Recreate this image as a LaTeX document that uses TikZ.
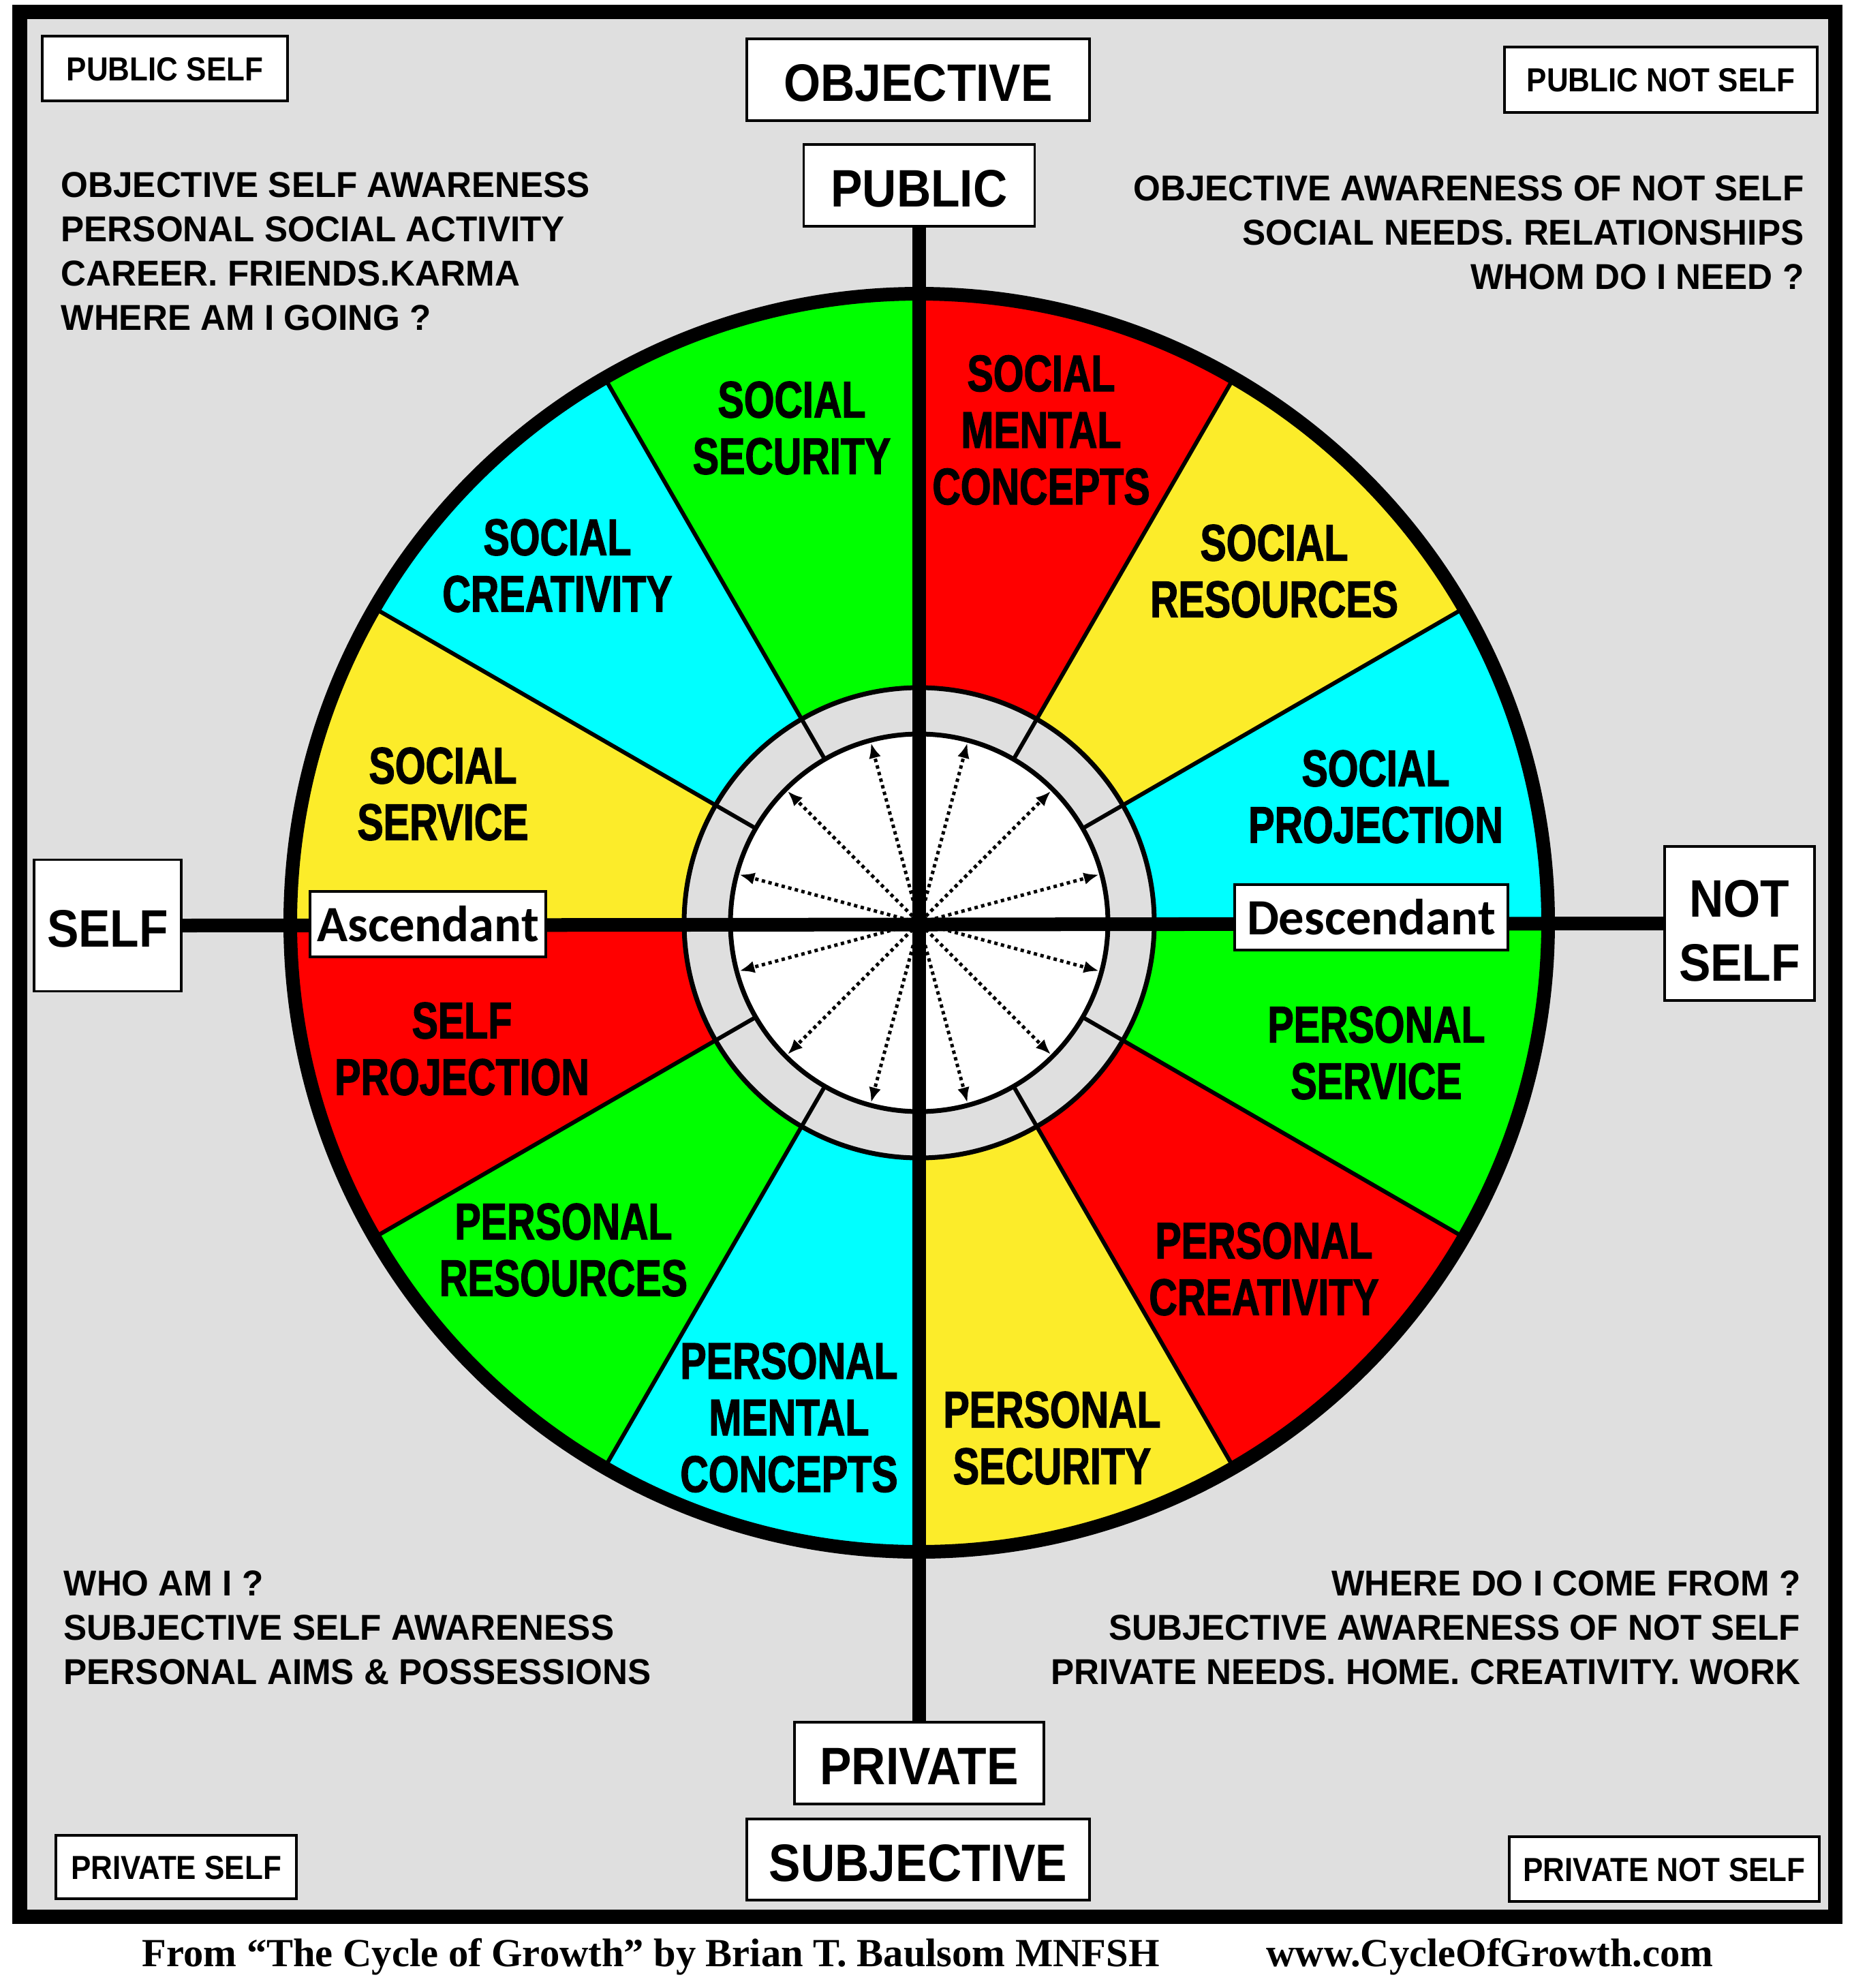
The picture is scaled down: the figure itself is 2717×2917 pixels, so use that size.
\documentclass[tikz,border=0pt]{standalone}
\usepackage{fontspec}
\usetikzlibrary{arrows.meta}
\newfontfamily\boxfont{Liberation Sans}[FakeStretch=0.9]
\newfontfamily\cornerfont{Liberation Sans}[FakeStretch=0.97]
\newfontfamily\segfont{Liberation Sans}[FakeStretch=0.76, FakeBold=1.6]
\newfontfamily\ascfont{Carlito}
\newfontfamily\capfont{Liberation Serif}
\definecolor{bggray}{RGB}{223,223,223}
\definecolor{segred}{RGB}{255,0,0}
\definecolor{segyel}{RGB}{252,236,42}
\definecolor{segcyan}{RGB}{0,255,255}
\definecolor{seggreen}{RGB}{0,255,0}
\tikzset{
  boxlbl/.style={draw=black, fill=white, line width=0.035cm, inner sep=0pt, align=center},
  bigfont/.style={font=\boxfont\bfseries\fontsize{22}{26.7}\selectfont},
  bigtxt/.style={bigfont, text height=18pt, text depth=0pt},
  smalltxt/.style={font=\boxfont\bfseries\fontsize{13.9}{16}\selectfont, text height=9.95pt, text depth=0pt},
  asctxt/.style={font=\ascfont\bfseries\fontsize{21.2}{25}\selectfont},
  cornertxt/.style={font=\cornerfont\bfseries\fontsize{15}{18.5}\selectfont, inner sep=0pt},
  seg/.style={font=\segfont\bfseries\fontsize{21.5}{23.6}\selectfont, align=center, inner sep=0pt},
  captxt/.style={font=\capfont\bfseries\fontsize{16.65}{20}\selectfont, inner sep=0pt, anchor=base west},
  crossline/.style={line width=0.2cm},
  divline/.style={line width=0.06cm},
  ringline/.style={line width=0.07cm},
  dotarrow/.style={line width=0.05cm, dash pattern=on 0.05cm off 0.05cm, -{Latex[length=0.22cm,width=0.18cm]}}
}
\begin{document}
\begin{tikzpicture}[x=0.01cm,y=0.01cm]
\useasboundingbox (0,0) rectangle (2717,-2917);
\fill[white] (0,0) rectangle (2717,-2917);
% frame
\draw[line width=0.21cm, fill=bggray] (29,-17.5) rectangle (2693,-2812);
\coordinate (C) at (1349,-1354);
% sectors
\foreach \k/\c in {0/segred,1/segyel,2/segcyan,3/seggreen,4/segred,5/segyel,6/segcyan,7/seggreen,8/segred,9/segyel,10/segcyan,11/seggreen}{
  \fill[\c] (C) -- ++({90-30*\k}:923) arc[start angle={90-30*\k}, end angle={60-30*\k}, radius=923] -- cycle;
}
\fill[bggray] (C) circle[radius=345];
\fill[white] (C) circle[radius=277];
\foreach \a in {30,60,120,150,210,240,300,330}{
  \draw[divline, shift={(C)}] (\a:277) -- (\a:923);
}
\draw[ringline] (C) circle[radius=345];
\draw[ringline] (C) circle[radius=277];
\draw[line width=0.2cm] (C) circle[radius=923];
% arrows
\foreach \a in {15,45,...,345}{
  \draw[dotarrow, shift={(C)}] (\a:14) -- (\a:273);
}
% boxes
\node[boxlbl, smalltxt, minimum width=3.60cm, minimum height=0.95cm] (pubself) at (242,-100.5) {PUBLIC SELF};
\node[boxlbl, smalltxt, minimum width=4.59cm, minimum height=0.96cm] (pubnotself) at (2437.5,-117) {PUBLIC NOT SELF};
\node[boxlbl, bigtxt, minimum width=5.03cm, minimum height=1.20cm] (objective) at (1347.5,-117) {OBJECTIVE};
\node[boxlbl, bigtxt, minimum width=3.39cm, minimum height=1.20cm] (public) at (1349,-272) {PUBLIC};
\node[boxlbl, bigtxt, minimum width=2.16cm, minimum height=1.93cm] (self) at (158,-1358) {SELF};
\node[boxlbl, minimum width=2.20cm, minimum height=2.26cm] (notself) at (2553,-1355) {};
\node[bigfont, align=center, inner sep=0pt] (notselftxt) at (2553,-1366) {NOT\\SELF};
\node[boxlbl, bigtxt, minimum width=3.66cm, minimum height=1.20cm] (private) at (1349,-2587) {PRIVATE};
\node[boxlbl, bigtxt, minimum width=5.03cm, minimum height=1.19cm] (subjective) at (1347.5,-2728.5) {SUBJECTIVE};
\node[boxlbl, smalltxt, minimum width=3.53cm, minimum height=0.93cm] (privself) at (258.5,-2739.5) {PRIVATE SELF};
\node[boxlbl, smalltxt, minimum width=4.55cm, minimum height=0.95cm] (privnotself) at (2442.5,-2742.5) {PRIVATE NOT SELF};
% cross lines
\draw[crossline] (self.east) -- (notself.west);
\draw[crossline] (public.south) -- (private.north);
\fill (C) circle[radius=14];
\node[boxlbl, asctxt, minimum width=3.46cm, minimum height=0.96cm] (asc) at (628,-1356) {Ascendant};
\node[boxlbl, asctxt, minimum width=4.01cm, minimum height=0.96cm] (desc) at (2012.5,-1346) {Descendant};
% segment labels
\node[seg] (s1) at (1162,-628) {SOCIAL\\SECURITY};
\node[seg] (s2) at (1528,-631) {SOCIAL\\MENTAL\\CONCEPTS};
\node[seg] (s3) at (1870,-838) {SOCIAL\\RESOURCES};
\node[seg] (s4) at (2019,-1169) {SOCIAL\\PROJECTION};
\node[seg] (s5) at (2020,-1545) {PERSONAL\\SERVICE};
\node[seg] (s6) at (1855,-1862) {PERSONAL\\CREATIVITY};
\node[seg] (s7) at (1544,-2110) {PERSONAL\\SECURITY};
\node[seg] (s8) at (1158,-2080) {PERSONAL\\MENTAL\\CONCEPTS};
\node[seg] (s9) at (827,-1834) {PERSONAL\\RESOURCES};
\node[seg] (s10) at (678,-1539) {SELF\\PROJECTION};
\node[seg] (s11) at (650,-1165) {SOCIAL\\SERVICE};
\node[seg] (s12) at (818,-830) {SOCIAL\\CREATIVITY};
% corner texts
\node[cornertxt, anchor=north west, align=left] (tl) at (89,-252) {OBJECTIVE SELF AWARENESS\\PERSONAL SOCIAL ACTIVITY\\CAREER. FRIENDS.KARMA\\WHERE AM I GOING ?};
\node[cornertxt, anchor=north east, align=right] (tr) at (2648,-257) {OBJECTIVE AWARENESS OF NOT SELF\\SOCIAL NEEDS. RELATIONSHIPS\\WHOM DO I NEED ?};
\node[cornertxt, anchor=north west, align=left] (bl) at (93,-2304) {WHO AM I ?\\SUBJECTIVE SELF AWARENESS\\PERSONAL AIMS \& POSSESSIONS};
\node[cornertxt, anchor=north east, align=right] (br) at (2643,-2304) {WHERE DO I COME FROM ?\\SUBJECTIVE AWARENESS OF NOT SELF\\PRIVATE NEEDS. HOME. CREATIVITY. WORK};
% caption
\node[captxt] (cap1) at (208,-2885) {From “The Cycle of Growth” by Brian T. Baulsom MNFSH};
\node[captxt] (cap2) at (1858,-2885) {www.CycleOfGrowth.com};
\end{tikzpicture}
\end{document}
